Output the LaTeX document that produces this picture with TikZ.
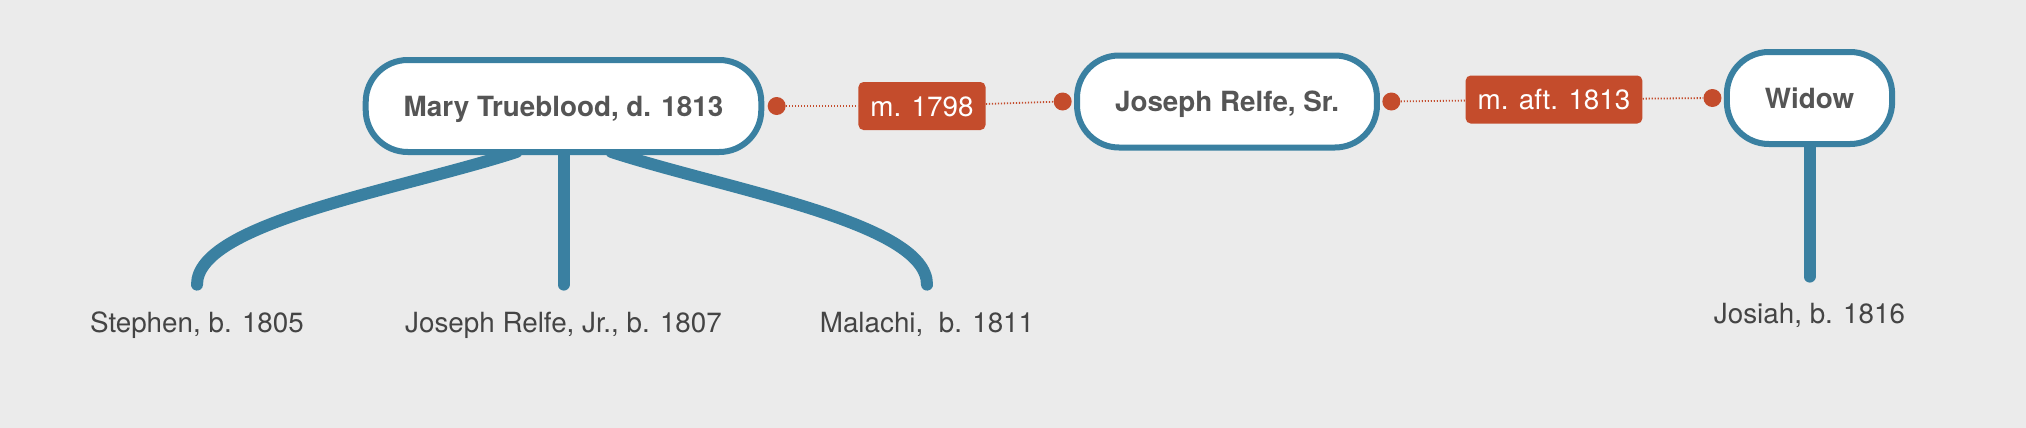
\documentclass[tikz,border=0pt]{standalone}
\usepackage{fontspec}
\setmainfont{TeX Gyre Heros}
\usetikzlibrary{positioning}

\definecolor{treeblue}{HTML}{3A80A1}
\definecolor{wedred}{HTML}{C44C2C}
\definecolor{paper}{HTML}{EBEBEB}
\definecolor{nametext}{HTML}{555555}
\definecolor{kidtext}{HTML}{444444}

\pgfdeclarelayer{paperlayer}
\pgfdeclarelayer{linelayer}
\pgfsetlayers{paperlayer,linelayer,main}

\newcommand\treefont{\fontsize{13.9}{16}\selectfont}

\tikzset{
  person/.style={draw=treeblue, line width=3pt, fill=white, rounded corners=21pt,
    inner xsep=19pt, minimum height=46pt, text height=10pt, text depth=0pt,
    text=nametext, font=\treefont\bfseries},
  wedding/.style={fill=wedred, rounded corners=2.5pt, inner xsep=6pt,
    minimum height=24pt, text height=10pt, text depth=0pt, text=white, font=\treefont},
  kid/.style={inner sep=0pt, text height=10pt, text depth=0pt, text=kidtext, font=\treefont},
  knot/.style={circle, fill=wedred, inner sep=0pt, minimum size=9pt},
  bond/.style={wedred, line width=0.9pt, dash pattern=on 0.6pt off 0.9pt},
  descent/.style={treeblue, line width=6pt, line cap=round},
}

\begin{document}
\begin{tikzpicture}[x=0.5pt, y=-0.5pt]
    \useasboundingbox (0,0) rectangle (2026,428);
    \begin{pgfonlayer}{paperlayer}
        \fill [paper] (0,0) rectangle (2026,428);
    \end{pgfonlayer}

    % parents
    \node [person] (mary) at (563.5,106) {Mary Trueblood, d. 1813};
    \node [person] (joseph) at (1227,101.5) {Joseph Relfe, Sr.};
    \node [person] (widow) at (1809.5,98) {Widow};

    % marriages
    \node [knot, right=1.5pt of mary] (maryknot) {};
    \node [wedding] (wed1) at (922,106) {m. 1798};
    \node [knot, left=1pt of joseph] (josephknotl) {};
    \node [knot, right=1pt of joseph] (josephknotr) {};
    \node [wedding] (wed2) at (1554,99.5) {m. aft. 1813};
    \node [knot, left=1pt of widow] (widowknot) {};

    \draw [bond] (maryknot) -- (wed1);
    \draw [bond] (wed1) -- (josephknotl);
    \draw [bond] (josephknotr) -- (wed2);
    \draw [bond] (wed2) -- (widowknot);

    % children
    \node [kid] (stephen) at (197,322) {Stephen, b. 1805};
    \node [kid] (josephjr) at (563.5,322) {Joseph Relfe, Jr., b. 1807};
    \node [kid] (malachi) at (927,322) {Malachi,\ \ b. 1811};
    \node [kid] (josiah) at (1809.5,313) {Josiah, b. 1816};

    \coordinate (stephenend) at ([yshift=13.5pt]stephen.north);
    \coordinate (josephjrend) at ([yshift=13.5pt]josephjr.north);
    \coordinate (malachiend) at ([yshift=13.5pt]malachi.north);
    \coordinate (josiahend) at ([yshift=13pt]josiah.north);

    \begin{pgfonlayer}{linelayer}
        \draw [descent] ([xshift=-23.5pt,yshift=1.5pt]mary.south) .. controls +(-117,38) and +(0,-62) .. (stephenend);
        \draw [descent] (mary.south) -- (josephjrend);
        \draw [descent] ([xshift=24pt,yshift=1.5pt]mary.south) .. controls +(117,38) and +(0,-62) .. (malachiend);
        \draw [descent] (widow.south) -- (josiahend);
    \end{pgfonlayer}
\end{tikzpicture}
\end{document}
